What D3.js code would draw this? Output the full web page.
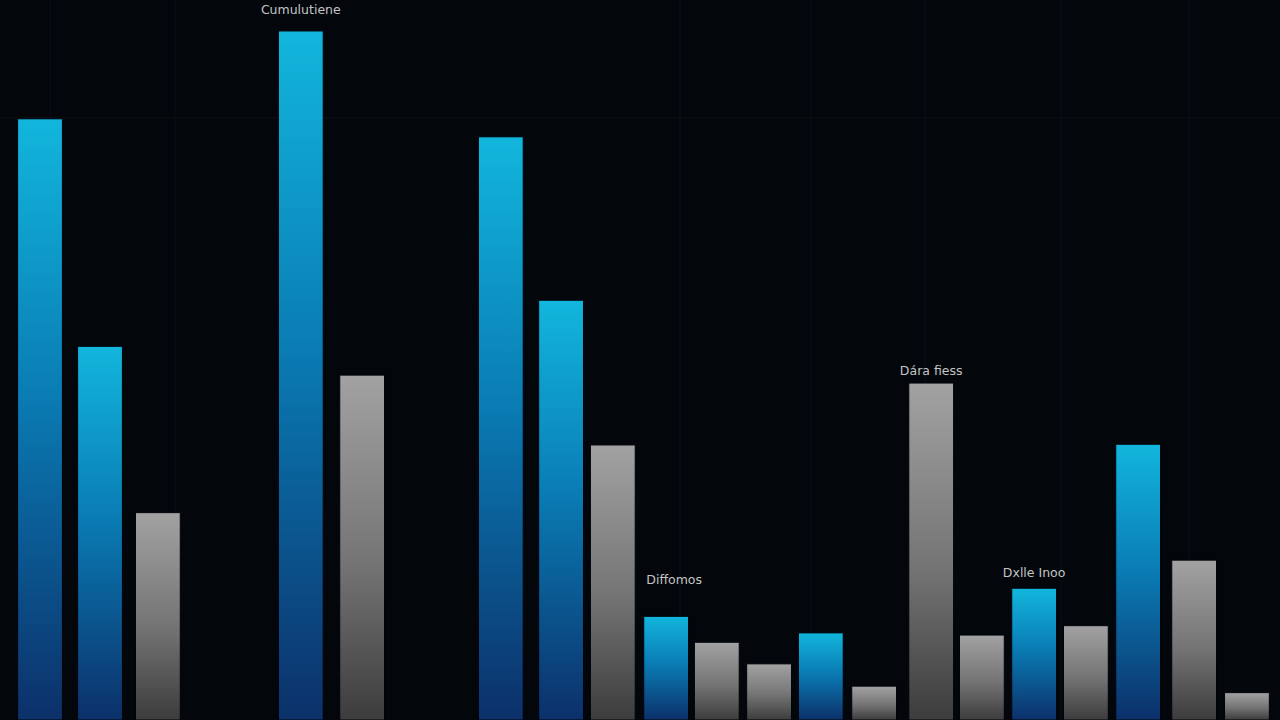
<!DOCTYPE html>
<html>
<head>
<meta charset="utf-8">
<script src="https://cdn.jsdelivr.net/npm/d3@7/dist/d3.min.js"></script>
<style>
  html, body { margin: 0; padding: 0; background: #03070c; overflow: hidden; }
  svg { display: block; }
</style>
</head>
<body>
<svg id="chart" width="1280" height="720"></svg>
<script>
// ---- data ----
const periods = [0.75, 1.875, 2.96, 5.64, 6.79, 9.39, 10.52, 11.49, 12.49, 13.44,
                 14.42, 15.39, 16.39, 17.46, 18.41, 19.39, 20.36, 21.34, 22.39, 23.38];
const values  = [83.5, 51.9, 28.8, 95.7, 47.9, 81.0, 58.3, 38.2, 14.4, 10.8,
                 7.8, 12.1, 4.7, 46.8, 11.8, 18.3, 13.1, 38.3, 22.2, 3.8];
const series  = ["blue","blue","grey","blue","grey","blue","blue","grey","blue","grey",
                 "grey","blue","grey","grey","grey","blue","grey","blue","grey","grey"];
const annotationText  = ["Cumulutiene", "Diffomos", "Dára fiess", "Dxlle Inoo"];
const annotationBar   = [3, 8, 13, 15];
const annotationLevel = [98.5, 19.4, 48.4, 20.4];
const gridLevels  = [83.6];
const gridPeriods = [0.94, 3.28, 12.75, 15.2, 17.35, 19.9, 22.3];

const W = 1280, H = 720;
const svg = d3.select("#chart");

const x = d3.scaleLinear().domain([0, 24]).range([0, W]);
const y = d3.scaleLinear().domain([0, 100]).range([H, 0]);
const barW = x(0.84) - x(0);

const defs = svg.append("defs");
const gb = defs.append("linearGradient").attr("id", "gBlue")
  .attr("x1", 0).attr("y1", 0).attr("x2", 0).attr("y2", 1);
gb.append("stop").attr("offset", "0%").attr("stop-color", "#12b6dc");
gb.append("stop").attr("offset", "45%").attr("stop-color", "#0a7db5");
gb.append("stop").attr("offset", "100%").attr("stop-color", "#0c306a");
const gg = defs.append("linearGradient").attr("id", "gGrey")
  .attr("x1", 0).attr("y1", 0).attr("x2", 0).attr("y2", 1);
gg.append("stop").attr("offset", "0%").attr("stop-color", "#a2a2a2");
gg.append("stop").attr("offset", "55%").attr("stop-color", "#747474");
gg.append("stop").attr("offset", "100%").attr("stop-color", "#3c3c3c");

svg.append("rect").attr("width", W).attr("height", H).attr("fill", "#03070c");

// faint grid
svg.append("g").selectAll("line").data(gridPeriods).join("line")
  .attr("x1", d => x(d)).attr("x2", d => x(d))
  .attr("y1", 0).attr("y2", H)
  .attr("stroke", "#070c12").attr("stroke-width", 2);
svg.append("g").selectAll("line").data(gridLevels).join("line")
  .attr("x1", 0).attr("x2", W)
  .attr("y1", d => y(d)).attr("y2", d => y(d))
  .attr("stroke", "#070c11").attr("stroke-width", 2);

const bars = periods.map((p, i) => ({ p, v: values[i], s: series[i] }));

svg.append("g").selectAll("rect").data(bars).join("rect")
  .attr("x", d => x(d.p) - barW / 2)
  .attr("y", d => y(d.v))
  .attr("width", barW)
  .attr("height", d => y(0) - y(d.v))
  .attr("fill", d => d.s === "blue" ? "url(#gBlue)" : "url(#gGrey)")
  .attr("stroke", "#01040a").attr("stroke-width", 1);

const ann = annotationText.map((t, i) => ({ t, b: annotationBar[i], v: annotationLevel[i] }));
svg.append("g").selectAll("text").data(ann).join("text")
  .attr("x", d => x(periods[d.b]) + (d.b === 8 ? 8 : 0))
  .attr("y", d => y(d.v))
  .attr("text-anchor", "middle")
  .attr("dominant-baseline", "middle")
  .attr("font-family", "DejaVu Sans, sans-serif")
  .attr("font-size", 12.5)
  .attr("fill", "#c4c4c4")
  .text(d => d.t);
</script>
</body>
</html>
